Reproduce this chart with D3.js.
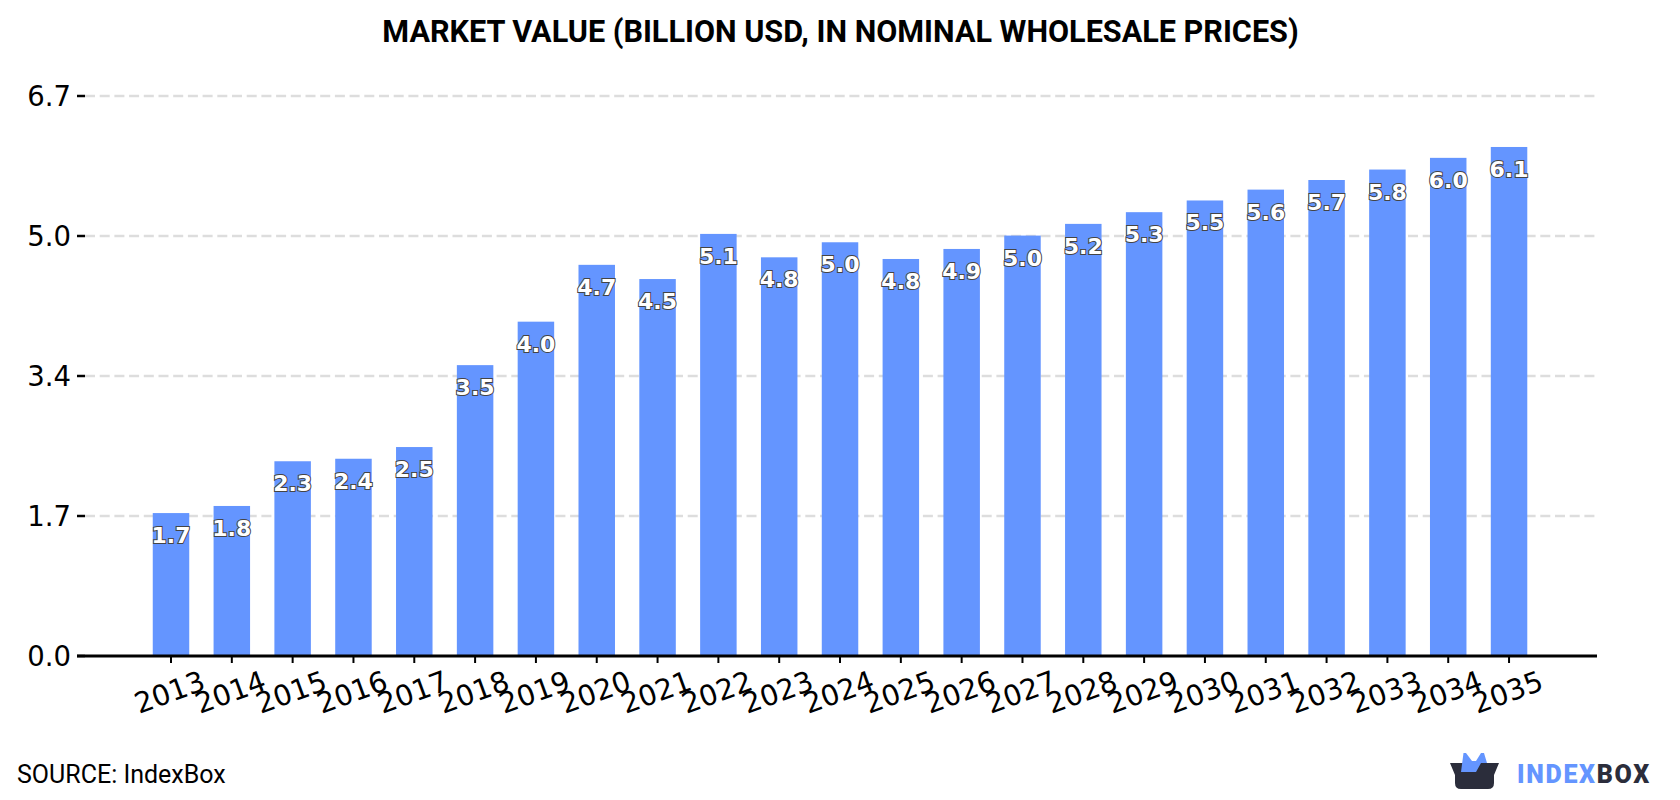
<!DOCTYPE html>
<html><head><meta charset="utf-8">
<style>html,body{margin:0;background:#fff}svg{display:block}</style>
<script src="https://cdn.jsdelivr.net/npm/d3@7"></script></head><body>
<svg id="c" width="1680" height="800"></svg>
<script>
// Market value per year, with the rounded labels printed on the bars
const years=["2013","2014","2015","2016","2017","2018","2019","2020","2021","2022","2023","2024","2025","2026","2027","2028","2029","2030","2031","2032","2033","2034","2035"];
const values=[1.71,1.795,2.33,2.36,2.5,3.48,4.0,4.68,4.51,5.05,4.77,4.95,4.75,4.87,5.03,5.17,5.31,5.45,5.58,5.695,5.82,5.96,6.09];
const labels=["1.7","1.8","2.3","2.4","2.5","3.5","4.0","4.7","4.5","5.1","4.8","5.0","4.8","4.9","5.0","5.2","5.3","5.5","5.6","5.7","5.8","6.0","6.1"];
const ticks=[0,1.675,3.35,5.025,6.7];
const tickLabels=["0.0","1.7","3.4","5.0","6.7"];

const svg=d3.select("#c");
const step=60.82, left=171-step*0.5;
const x=d3.scaleBand().domain(years).range([left,left+step*years.length]).paddingInner(0.4).paddingOuter(0.2);
const y=d3.scaleLinear().domain([0,6.7]).range([656,96]);

svg.append("text").attr("x",840.5).attr("y",41.5).attr("text-anchor","middle")
  .attr("font-family","Roboto").attr("font-weight",700).attr("font-size",30.6)
  .text("MARKET VALUE (BILLION USD, IN NOMINAL WHOLESALE PRICES)");

// Dashed grid and left-hand ticks
ticks.forEach((t,i)=>{
  if(t>0) svg.append("line").attr("x1",85).attr("x2",1597).attr("y1",y(t)).attr("y2",y(t))
    .attr("stroke","#ddd").attr("stroke-width",2.5).attr("stroke-dasharray","10,4.7");
  svg.append("line").attr("x1",77).attr("x2",85).attr("y1",y(t)).attr("y2",y(t)).attr("stroke","#000").attr("stroke-width",2.5);
  svg.append("text").attr("x",71).attr("y",y(t)+10).attr("text-anchor","end")
    .attr("font-family","DejaVu Sans").attr("font-size",27.5).attr("fill","#000").text(tickLabels[i]);
});

svg.selectAll("rect.b").data(values).join("rect").attr("class","b")
  .attr("x",(d,i)=>x(years[i])).attr("width",x.bandwidth())
  .attr("y",d=>y(d)).attr("height",d=>y(0)-y(d)).attr("fill","#6495ff");

// Baseline with a tick under each bar
svg.append("line").attr("x1",77).attr("x2",1597).attr("y1",y(0)).attr("y2",y(0)).attr("stroke","#000").attr("stroke-width",3);
svg.selectAll("line.xt").data(years).join("line").attr("class","xt")
  .attr("x1",d=>x(d)+x.bandwidth()/2).attr("x2",d=>x(d)+x.bandwidth()/2)
  .attr("y1",656).attr("y2",663).attr("stroke","#000").attr("stroke-width",2);

svg.selectAll("text.v").data(values).join("text").attr("class","v")
  .attr("x",(d,i)=>x(years[i])+x.bandwidth()/2).attr("y",d=>y(d)+30).attr("text-anchor","middle")
  .attr("font-family","DejaVu Sans").attr("font-weight",700).attr("font-size",22)
  .attr("fill","#fff").attr("stroke","#444").attr("stroke-width",2).attr("paint-order","stroke")
  .text((d,i)=>labels[i]);

svg.selectAll("text.t").data(years).join("text").attr("class","t").attr("text-anchor","middle")
  .attr("font-family","DejaVu Sans").attr("font-size",28.5).attr("fill","#000")
  .attr("transform",d=>`translate(${x(d)+x.bandwidth()/2+2},701.5) rotate(-20)`).text(d=>d);

svg.append("text").attr("x",17).attr("y",783).attr("font-family","Roboto").attr("font-size",25).attr("fill","#000").text("SOURCE: IndexBox");

// Brand mark and wordmark
const logo=svg.append("g");
logo.append("path").attr("fill","#2b2d3b").attr("d","M1450,763L1499,763L1494,775L1494,783Q1494,789 1488,789L1461,789Q1455,789 1455,783L1455,775Z");
logo.append("path").attr("fill","#6495ff").attr("d","M1461,772L1463.5,753L1466,753L1472,761L1476,761L1481,753L1484,753L1487,763L1481,763L1476,772Z");
const word=logo.append("text").attr("x",1517).attr("y",783).attr("font-family","Roboto").attr("font-weight",900).attr("font-size",25).attr("letter-spacing",1.7);
word.append("tspan").attr("fill","#6495ff").text("INDEX");
word.append("tspan").attr("fill","#2b2d3b").text("BOX");
</script></body></html>
